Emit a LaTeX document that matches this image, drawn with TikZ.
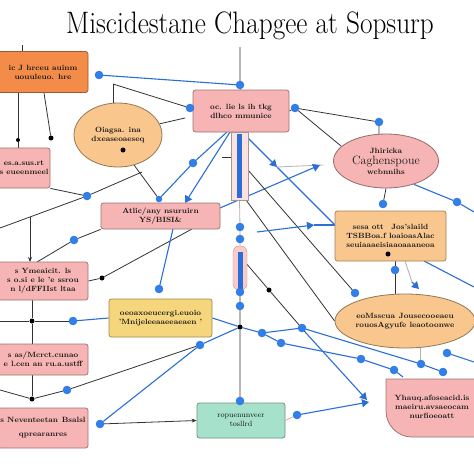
\documentclass[tikz,border=0pt]{standalone}
\usepackage{graphicx}
\usetikzlibrary{shapes.geometric,arrows.meta,backgrounds}
\definecolor{orng}{HTML}{F28C48}
\definecolor{lorng}{HTML}{F9C78E}
\definecolor{pnk}{HTML}{F6B4B4}
\definecolor{ylw}{HTML}{F6D67C}
\definecolor{mint}{HTML}{A6E2CB}
\definecolor{lblue}{HTML}{2B6FD6}
\definecolor{dblue}{HTML}{2F80EA}
\tikzset{t/.style={font=\fontsize{7.6}{9}\selectfont\bfseries, text=black!90, align=center, inner sep=1pt}}
\tikzset{bx/.style={t, draw=#1!65!black, fill=#1, rounded corners=2.5pt, line width=0.8pt}}
\tikzset{ov/.style={t, ellipse, draw=#1!60!black, fill=#1, line width=0.8pt, inner sep=0pt}}
\tikzset{bdot/.style={circle, fill=dblue, draw=lblue, inner sep=0pt, minimum size=8pt}}
\tikzset{kdot/.style={circle, fill=black, inner sep=0pt, minimum size=5pt}}
\tikzset{bl/.style={draw=lblue, line width=1.1pt}}
\tikzset{ln/.style={draw=black!80, line width=0.8pt}}
\tikzset{gl/.style={draw=black!30, line width=0.8pt}}
\tikzset{tri/.style={-{Triangle[length=7pt,width=8pt]}}}

\begin{document}
\begin{tikzpicture}[x=1pt,y=-1pt]
\useasboundingbox (0,0) rectangle (474,474);
\node[font=\fontsize{31}{31}\selectfont, text=black] (ttl) at (250,26) {\scalebox{0.88}[1]{Miscidestane Chapgee at Sopsurp}};

\node[bx=orng, minimum width=90pt, minimum height=41pt] (org) at (43,72) {ic J hrceu auinm\\uouuleuo. hre};
\node[ov=lorng, minimum width=88pt, minimum height=64pt] (ovA) at (118,135) {Oiagsa. ina\\dxeaseoaeseq};
\node[bx=pnk, minimum width=52pt, minimum height=40pt] (pA) at (24,168) {es.a.sus.rt\\s eueenmeel};
\node[bx=pnk, minimum width=96pt, minimum height=42pt] (pC) at (241,111) {oc. lie ls ih tkg\\dlhco mmunice};
\node[ov=pnk, minimum width=105pt, minimum height=54pt] (ovB) at (386,161) {Jhiricka\\[2pt]{\fontsize{12}{13}\selectfont\mdseries Caghenspoue}\\[1pt]wcbnnihs};
\node[bx=pnk, minimum width=119pt, minimum height=26pt] (pM) at (160.5,216) {Atlic/any nsuruirn\\YS/BISI\&};
\node[bx=pnk, minimum width=90pt, minimum height=38pt] (pB) at (43,281) {s Ymeaicit. ls\\s o.si e le 'e ssrou\\n l/dFFIIst ltaa};
\node[bx=ylw, minimum width=103pt, minimum height=38pt] (yb) at (160.5,318) {oeoaxoeucergi.euoio\\'Mnijeleeaaeeaeaen '};
\node[bx=lorng, minimum width=111pt, minimum height=50pt] (ob) at (390.5,236) {sesa ott\quad Jos'slaild\\TSBBoa.f loaioasAlac\\seuiaaaeisiaaoaaaneoa};
\node[ov=lorng, minimum width=140pt, minimum height=54pt] (ovC) at (405,321) {eoMsscua\enspace Jousecooeaeu\\rouosAgyufe leaotoonwe};
\node[bx=pnk, minimum width=90pt, minimum height=31pt] (pD) at (43,359.5) {s as/Mcrct.cunao\\e l.cen an ru.a.ustff};
\node[bx=pnk, minimum width=90pt, minimum height=40pt] (pE) at (43,428) {s Neventeetan\enspace Bsalsl\\[5pt]qprearanres};
\node[bx=mint, minimum width=88pt, minimum height=35pt, font=\fontsize{7.6}{9}\selectfont] (tb) at (241,420.5) {ropuenunveer\\tosllrd};
\filldraw[draw=pnk!65!black, fill=pnk, line width=0.8pt] (480,379) -- (386,379) [rounded corners=26pt] -- (386,437) [sharp corners] -- (480,437) -- cycle;
\node[t] (pN) at (432,407) {Yhauq.afoseacid.is\\maeiru.avsaeocam\\nurfioeoatt};

\node[draw=black!40, fill=pnk!40, minimum width=17pt, minimum height=68pt, inner sep=0pt] (barU) at (239.5,166) {};
\node[fill=lblue, minimum width=4.5pt, minimum height=64pt, inner sep=0pt] (barUi) at (239.5,166) {};
\node[draw=pnk!80!black, fill=pnk!70, rounded corners=6pt, minimum width=14pt, minimum height=44pt, inner sep=0pt] (barL) at (240,268) {};
\node[fill=lblue, minimum width=5pt, minimum height=38pt, inner sep=0pt] (barLi) at (240,271) {};

\node[bdot] (d1) at (99,75) {};
\node[bdot] (d2) at (240,85) {};
\node[bdot] (d3) at (190,108) {};
\node[bdot] (d4) at (295,108) {};
\node[bdot] (d5) at (379,122) {};
\node[bdot] (d6) at (383,204) {};
\node[bdot] (d7) at (457,202) {};
\node[bdot] (d8) at (193,163) {};
\node[bdot] (d9) at (87,196) {};
\node[bdot] (d10) at (74,240) {};
\node[bdot] (d11) at (159,289) {};
\node[bdot] (d12) at (73,321) {};
\node[bdot] (d13) at (67,390) {};
\node[bdot] (d14) at (200,345) {};
\node[bdot] (d15) at (100,424) {};
\node[bdot] (d16) at (240,401) {};
\node[bdot] (d17) at (297,415) {};
\node[bdot] (d18) at (240,227) {};
\node[bdot] (d19) at (240,239) {};
\node[bdot] (d20) at (240,292) {};
\node[bdot] (d21) at (240,306) {};
\node[bdot] (d22) at (262,333) {};
\node[bdot] (d23) at (302,328) {};
\node[bdot] (d24) at (281,343) {};
\node[bdot] (d25) at (361,359) {};
\node[bdot] (d26) at (394,370) {};
\node[bdot] (d27) at (421,364) {};
\node[bdot] (d28) at (443,372) {};
\node[bdot] (d29) at (447,353) {};
\node[bdot] (d30) at (395,270) {};
\node[bdot] (d31) at (355,293) {};
\node[bdot, minimum size=6pt] (d34) at (159,199) {};

\node[kdot] (k1) at (123,150) {};
\node[kdot] (k2) at (51,138) {};
\node[kdot, minimum size=4pt] (k3) at (18,140) {};
\node[kdot] (k4) at (102,278) {};
\node[kdot] (k5) at (32,321) {};
\node[kdot] (k6) at (32,399) {};
\node[kdot] (k7) at (269,290) {};
\node[kdot] (k8) at (388,254) {};
\node[kdot] (k9) at (240,327) {};

\coordinate (ttlb) at (240,47);
\coordinate (otop) at (22,45);
\coordinate (otopb) at (22,52);
\coordinate (j1) at (113,84);
\coordinate (ja) at (113,104);
\coordinate (jb) at (185,118);
\coordinate (oa) at (18,93);
\coordinate (pa) at (18,148);
\coordinate (ob1) at (44,93);
\coordinate (c1) at (0,228);
\coordinate (c2) at (142,172);
\coordinate (c3) at (30,217);
\coordinate (c4) at (30,262);
\coordinate (pBt) at (37,262);
\coordinate (pMb) at (192,229);
\coordinate (pMc) at (173,229);
\coordinate (c5) at (0,321);
\coordinate (pBs) at (32,300);
\coordinate (pDn) at (32,344);
\coordinate (pDs) at (32,375);
\coordinate (c6) at (0,390);
\coordinate (pCa) at (227,132);
\coordinate (pCb) at (230,132);
\coordinate (pMt) at (185,203);
\coordinate (bua) at (243,133);
\coordinate (bub) at (248,170);
\coordinate (buc) at (246,200);
\coordinate (blb) at (245,262);
\coordinate (m1) at (277,167);
\coordinate (m2) at (323,165);
\coordinate (m3) at (320,165);
\coordinate (pMe) at (220,208);
\coordinate (obw) at (335,225);
\coordinate (m4) at (306,333);
\coordinate (m5) at (367,400);
\coordinate (m6) at (369,402);
\coordinate (m7) at (257,232);
\coordinate (m8) at (314,225);
\coordinate (obs) at (395,261);
\coordinate (ovCn) at (395,294);
\coordinate (obs2) at (405,261);
\coordinate (m9) at (412,282);
\coordinate (m10) at (419,289);
\coordinate (obs3) at (424,261);
\coordinate (e1) at (474,287);
\coordinate (ovBn) at (379,135);
\coordinate (ovBw) at (341,146);
\coordinate (e2) at (474,212);
\coordinate (m11) at (403,377);
\coordinate (e3) at (474,362);
\coordinate (ovCs) at (420,347);
\coordinate (m12) at (420,368);

\begin{scope}[on background layer]
\fill[white] (0,0) rectangle (474,474);
\draw[ln] (ttlb) -- (d2) -- (pC);
\draw[ln] (otop) -- (otopb);
\draw[bl] (d1) -- (d2);
\draw[ln] (j1) -- (d3);
\draw[ln] (j1) -- (ja);
\draw[ln] (ovA.15) -- (jb);
\draw[ln] (oa) -- (k3) -- (pa);
\draw[ln] (ob1) -- (k2);
\draw[ln] (k1) -- (d34);
\draw[ln] (pA.south east) -- (d9);
\draw[ln] (c1) -- (d9) -- (c2);
\draw[ln, -{Stealth[length=5pt,width=4pt]}] (c3) -- (c4);
\draw[ln] (pM.south west) -- (d10) -- (pBt);
\draw[ln] (pB.east) -- (k4) -- (pMb);
\draw[bl] (pMc) -- (d11);
\draw[ln] (c5) -- (k5) -- (d12);
\draw[bl] (d12) -- (yb.west);
\draw[ln] (pBs) -- (k5) -- (pDn);
\draw[ln] (pDs) -- (k6);
\draw[ln] (c6) -- (k6) -- (d13) -- (d14);
\draw[bl] (k9) -- (d14) -- (d15);
\draw[ln, -{Stealth[length=5pt,width=4pt]}] (d15) -- (tb.west);
\draw[ln] (4,429) -- (84,429);
\draw[ln] (30,429) -- (30,438);
\draw[gl] (barU.south) -- (d18) -- (d19) -- (barL);
\draw[ln] (barL) -- (d20) -- (d21) -- (k9) -- (d16) -- (tb.north);
\draw[ln] (222,157) -- (barU.west |- 0,157);
\draw[bl] (pCa) -- (d8) -- (d34);
\draw[bl, tri] (pCb) -- (pMt);
\draw[bl, tri] (bua) -- (m1);
\draw[bl] (m1) -- (obw);
\draw[gl] (m1) -- (m2);
\draw[bl, tri] (pMe) -- (m3);
\draw[ln] (bub) -- (d31);
\draw[ln] (buc) -- (ovC.west);
\draw[ln] (blb) -- (k7) -- (m4);
\draw[bl, tri] (m4) -- (m5);
\draw[bl, tri] (d17) -- (m6);
\draw[red!50, line width=0.6pt] (tb.east) -- (d17);
\draw[bl, tri] (m7) -- (m8);
\draw[bl] (m8) -- (obw);
\draw[ln] (obs) -- (d30) -- (ovCn);
\draw[gl] (obs2) -- (m9);
\draw[bl, tri] (m9) -- (m10);
\draw[bl] (obs3) -- (e1);
\draw[ln] (pC.east) -- (d4) -- (d5) -- (ovBn);
\draw[ln] (d4) -- (ovBw);
\draw[ln] (ovB.south) -- (d6);
\draw[bl] (ovB.-40) -- (d7) -- (e2);
\draw[bl] (yb.east) -- (k9) -- (d22) -- (d23) -- (d27) -- (d28);
\draw[bl] (d22) -- (d24) -- (d25) -- (d26) -- (m11);
\draw[bl] (d29) -- (e3);
\draw[gl] (ovCs) -- (m12);
\end{scope}
\end{tikzpicture}
\end{document}
